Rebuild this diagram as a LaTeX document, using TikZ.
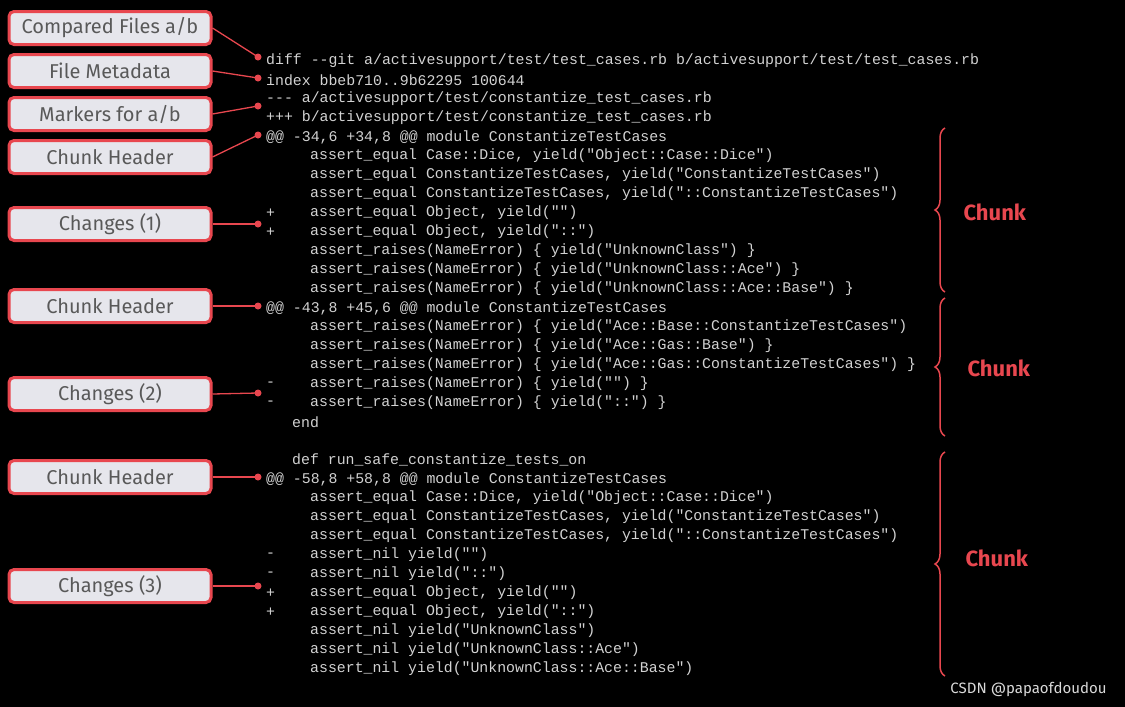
\documentclass[tikz,border=0pt]{standalone}
\usepackage{fontspec}
\setmainfont{Fira Sans}
\newfontfamily\codefont{Liberation Mono}
\usetikzlibrary{decorations.pathreplacing}
\definecolor{rd}{HTML}{E8474F}
\definecolor{bx}{HTML}{E6E6EC}
\definecolor{cd}{HTML}{D2D2D2}
\begin{document}
\begin{tikzpicture}[x=1pt,y=-1pt,
  lbl/.style={draw=rd,line width=3pt,fill=bx,rounded corners=5pt,minimum width=202pt,minimum height=33pt,inner sep=0pt,font=\fontsize{20}{20}\selectfont,text=black!65},
  cl/.style={anchor=west,inner sep=0pt,font=\codefont\fontsize{14.85}{14.85}\selectfont,text=cd},
  dot/.style={circle,fill=rd,inner sep=0pt,minimum size=7pt},
  con/.style={rd,line width=1.3pt},
  br/.style={rd,line width=1.5pt,decorate,decoration={brace,amplitude=10pt}},
  ch/.style={anchor=west,text=rd,font=\bfseries\fontsize{22}{22}\selectfont}]
\fill[black] (0,0) rectangle (1125,707);
\useasboundingbox (0,0) rectangle (1125,707);
% code
\foreach \y/\p/\t in {
 61//{diff --git a/activesupport/test/test\_cases.rb b/activesupport/test/test\_cases.rb},
 80//{index bbeb710..9b62295 100644},
 99//{--- a/activesupport/test/constantize\_test\_cases.rb},
 118//{+++ b/activesupport/test/constantize\_test\_cases.rb},
 137//{@@ -34,6 +34,8 @@ module ConstantizeTestCases},
 308//{@@ -43,8 +45,6 @@ module ConstantizeTestCases},
 479//{@@ -58,8 +58,8 @@ module ConstantizeTestCases}}
 {\node[cl] at (266,\y) {\t};}
\foreach \y/\p/\t in {
 156/ /{assert\_equal Case::Dice, yield("Object::Case::Dice")},
 175/ /{assert\_equal ConstantizeTestCases, yield("ConstantizeTestCases")},
 194/ /{assert\_equal ConstantizeTestCases, yield("::ConstantizeTestCases")},
 213/+/{assert\_equal Object, yield("")},
 232/+/{assert\_equal Object, yield("::")},
 251/ /{assert\_raises(NameError) \{ yield("UnknownClass") \}},
 270/ /{assert\_raises(NameError) \{ yield("UnknownClass::Ace") \}},
 289/ /{assert\_raises(NameError) \{ yield("UnknownClass::Ace::Base") \}},
 327/ /{assert\_raises(NameError) \{ yield("Ace::Base::ConstantizeTestCases")},
 346/ /{assert\_raises(NameError) \{ yield("Ace::Gas::Base") \}},
 365/ /{assert\_raises(NameError) \{ yield("Ace::Gas::ConstantizeTestCases") \}},
 384/-/{assert\_raises(NameError) \{ yield("") \}},
 403/-/{assert\_raises(NameError) \{ yield("::") \}},
 498/ /{assert\_equal Case::Dice, yield("Object::Case::Dice")},
 517/ /{assert\_equal ConstantizeTestCases, yield("ConstantizeTestCases")},
 536/ /{assert\_equal ConstantizeTestCases, yield("::ConstantizeTestCases")},
 555/-/{assert\_nil yield("")},
 574/-/{assert\_nil yield("::")},
 593/+/{assert\_equal Object, yield("")},
 612/+/{assert\_equal Object, yield("::")},
 631/ /{assert\_nil yield("UnknownClass")},
 650/ /{assert\_nil yield("UnknownClass::Ace")},
 669/ /{assert\_nil yield("UnknownClass::Ace::Base")}}
 {\node[cl] at (266,\y) {\p}; \node[cl] at (310,\y) {\t};}
\node[cl] at (292,422) {end};
\node[cl] at (292,460) {def run\_safe\_constantize\_tests\_on};
% labels
\node[lbl] (l1) at (110,28) {Compared Files a/b};
\node[lbl] (l2) at (110,71) {File Metadata};
\node[lbl] (l3) at (110,114) {Markers for a/b};
\node[lbl] (l4) at (110,157) {Chunk Header};
\node[lbl] (l5) at (110,224) {Changes (1)};
\node[lbl] (l6) at (110,306) {Chunk Header};
\node[lbl] (l7) at (110,394) {Changes (2)};
\node[lbl] (l8) at (110,477) {Chunk Header};
\node[lbl] (l9) at (110,586) {Changes (3)};
\node[dot] (d1) at (258,57) {};
\node[dot] (d2) at (258,78) {};
\node[dot] (d3) at (258,106) {};
\node[dot] (d4) at (258,135) {};
\node[dot] (d5) at (258,224) {};
\node[dot] (d6) at (258,306) {};
\node[dot] (d7) at (258,393) {};
\node[dot] (d8) at (258,477) {};
\node[dot] (d9) at (258,586) {};
\foreach \i in {1,...,9} {\draw[con] (l\i.east) -- (d\i.center);}
% braces
\coordinate (b1a) at (945,128); \coordinate (b1b) at (945,292);
\coordinate (b2a) at (945,298); \coordinate (b2b) at (945,436);
\coordinate (b3a) at (945,452); \coordinate (b3b) at (945,676);
\draw[br] (b1b) -- (b1a);
\draw[br] (b2b) -- (b2a);
\draw[br] (b3b) -- (b3a);
\node[ch] (c1) at (960,212) {Chunk};
\node[ch] (c2) at (964,368) {Chunk};
\node[ch] (c3) at (962,558) {Chunk};
\node[anchor=east,text=white!85!black,font=\fontsize{15}{15}\selectfont] (wm) at (1110,689) {CSDN @papaofdoudou};
\end{tikzpicture}
\end{document}
